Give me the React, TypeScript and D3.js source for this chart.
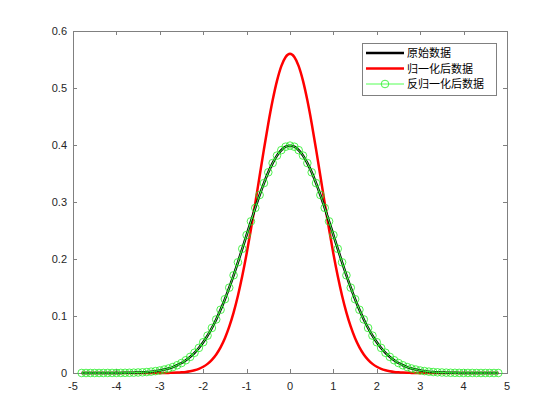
import { useEffect, useRef } from 'react';
import * as d3 from 'd3';

// x positions of the samples (-4.8 ... 4.8, step 0.1)
const xValues = [
  -4.8, -4.7, -4.6, -4.5, -4.4, -4.3, -4.2, -4.1, -4.0, -3.9, -3.8, -3.7, -3.6, -3.5, -3.4, -3.3,
  -3.2, -3.1, -3.0, -2.9, -2.8, -2.7, -2.6, -2.5, -2.4, -2.3, -2.2, -2.1, -2.0, -1.9, -1.8, -1.7,
  -1.6, -1.5, -1.4, -1.3, -1.2, -1.1, -1.0, -0.9, -0.8, -0.7, -0.6, -0.5, -0.4, -0.3, -0.2, -0.1,
  0.0, 0.1, 0.2, 0.3, 0.4, 0.5, 0.6, 0.7, 0.8, 0.9, 1.0, 1.1, 1.2, 1.3, 1.4, 1.5, 1.6, 1.7, 1.8,
  1.9, 2.0, 2.1, 2.2, 2.3, 2.4, 2.5, 2.6, 2.7, 2.8, 2.9, 3.0, 3.1, 3.2, 3.3, 3.4, 3.5, 3.6, 3.7,
  3.8, 3.9, 4.0, 4.1, 4.2, 4.3, 4.4, 4.5, 4.6, 4.7, 4.8,
];

// 原始数据
const originalValues = [
  0.0, 0.0, 0.0, 0.0, 0.0, 0.0, 0.0001, 0.0001, 0.0001, 0.0002, 0.0003, 0.0004, 0.0006, 0.0009,
  0.0012, 0.0017, 0.0024, 0.0033, 0.0044, 0.006, 0.0079, 0.0104, 0.0136, 0.0175, 0.0224, 0.0283,
  0.0355, 0.044, 0.054, 0.0656, 0.079, 0.094, 0.1109, 0.1295, 0.1497, 0.1714, 0.1942, 0.2179,
  0.242, 0.2661, 0.2897, 0.3123, 0.3332, 0.3521, 0.3683, 0.3814, 0.391, 0.397, 0.3989, 0.397,
  0.391, 0.3814, 0.3683, 0.3521, 0.3332, 0.3123, 0.2897, 0.2661, 0.242, 0.2179, 0.1942, 0.1714,
  0.1497, 0.1295, 0.1109, 0.094, 0.079, 0.0656, 0.054, 0.044, 0.0355, 0.0283, 0.0224, 0.0175,
  0.0136, 0.0104, 0.0079, 0.006, 0.0044, 0.0033, 0.0024, 0.0017, 0.0012, 0.0009, 0.0006, 0.0004,
  0.0003, 0.0002, 0.0001, 0.0001, 0.0001, 0.0, 0.0, 0.0, 0.0, 0.0, 0.0,
];

// 归一化后数据
const normalizedValues = [
  0.0, 0.0, 0.0, 0.0, 0.0, 0.0, 0.0, 0.0, 0.0, 0.0, 0.0, 0.0, 0.0, 0.0, 0.0, 0.0, 0.0, 0.0,
  0.0001, 0.0001, 0.0002, 0.0004, 0.0007, 0.0012, 0.0019, 0.0031, 0.0048, 0.0073, 0.0109, 0.016,
  0.023, 0.0325, 0.045, 0.061, 0.0812, 0.1059, 0.1355, 0.17, 0.2091, 0.2521, 0.2981, 0.3456,
  0.3928, 0.4378, 0.4783, 0.5125, 0.5384, 0.5545, 0.56, 0.5545, 0.5384, 0.5125, 0.4783, 0.4378,
  0.3928, 0.3456, 0.2981, 0.2521, 0.2091, 0.17, 0.1355, 0.1059, 0.0812, 0.061, 0.045, 0.0325,
  0.023, 0.016, 0.0109, 0.0073, 0.0048, 0.0031, 0.0019, 0.0012, 0.0007, 0.0004, 0.0002, 0.0001,
  0.0001, 0.0, 0.0, 0.0, 0.0, 0.0, 0.0, 0.0, 0.0, 0.0, 0.0, 0.0, 0.0, 0.0, 0.0, 0.0, 0.0, 0.0,
  0.0,
];

// 反归一化后数据
const restoredValues = [
  0.0, 0.0, 0.0, 0.0, 0.0, 0.0, 0.0001, 0.0001, 0.0001, 0.0002, 0.0003, 0.0004, 0.0006, 0.0009,
  0.0012, 0.0017, 0.0024, 0.0033, 0.0044, 0.006, 0.0079, 0.0104, 0.0136, 0.0175, 0.0224, 0.0283,
  0.0355, 0.044, 0.054, 0.0656, 0.079, 0.094, 0.1109, 0.1295, 0.1497, 0.1714, 0.1942, 0.2179,
  0.242, 0.2661, 0.2897, 0.3123, 0.3332, 0.3521, 0.3683, 0.3814, 0.391, 0.397, 0.3989, 0.397,
  0.391, 0.3814, 0.3683, 0.3521, 0.3332, 0.3123, 0.2897, 0.2661, 0.242, 0.2179, 0.1942, 0.1714,
  0.1497, 0.1295, 0.1109, 0.094, 0.079, 0.0656, 0.054, 0.044, 0.0355, 0.0283, 0.0224, 0.0175,
  0.0136, 0.0104, 0.0079, 0.006, 0.0044, 0.0033, 0.0024, 0.0017, 0.0012, 0.0009, 0.0006, 0.0004,
  0.0003, 0.0002, 0.0001, 0.0001, 0.0001, 0.0, 0.0, 0.0, 0.0, 0.0, 0.0,
];

const xTicks = [-5, -4, -3, -2, -1, 0, 1, 2, 3, 4, 5];
const yTicks = [0, 0.1, 0.2, 0.3, 0.4, 0.5, 0.6];
const legendLabels = ['原始数据', '归一化后数据', '反归一化后数据'];

const width = 560;
const height = 420;
const margin = { top: 31, right: 53, bottom: 47, left: 73 };
const axisColor = '#808080';
const labelFont = '"Liberation Sans", Arial, sans-serif';
const cjkFont = '"Noto Sans CJK SC", "Liberation Sans", sans-serif';

export default function App() {
  const svgRef = useRef<SVGSVGElement>(null);

  useEffect(() => {
    document.body.style.margin = '0';
    const svg = d3.select(svgRef.current!);
    svg.selectAll('*').remove();

    const plotW = width - margin.left - margin.right;
    const plotH = height - margin.top - margin.bottom;

    const x = d3.scaleLinear().domain([-5, 5]).range([margin.left, margin.left + plotW]);
    const y = d3.scaleLinear().domain([0, 0.6]).range([margin.top + plotH, margin.top]);

    svg.append('rect').attr('width', width).attr('height', height).attr('fill', '#fff');

    // box
    svg
      .append('rect')
      .attr('x', margin.left + 0.5)
      .attr('y', margin.top + 0.5)
      .attr('width', plotW)
      .attr('height', plotH)
      .attr('fill', 'none')
      .attr('stroke', axisColor);

    const tickLen = 4;
    const tickG = svg.append('g').attr('stroke', axisColor).attr('shape-rendering', 'crispEdges');
    xTicks.forEach((t) => {
      const px = Math.round(x(t)) + 0.5;
      tickG.append('line').attr('x1', px).attr('x2', px).attr('y1', y(0)).attr('y2', y(0) - tickLen);
      tickG.append('line').attr('x1', px).attr('x2', px).attr('y1', y(0.6)).attr('y2', y(0.6) + tickLen);
    });
    yTicks.forEach((t) => {
      const py = Math.round(y(t)) + 0.5;
      tickG.append('line').attr('x1', x(-5)).attr('x2', x(-5) + tickLen).attr('y1', py).attr('y2', py);
      tickG.append('line').attr('x1', x(5)).attr('x2', x(5) - tickLen).attr('y1', py).attr('y2', py);
    });

    svg
      .append('g')
      .selectAll('text')
      .data(xTicks)
      .enter()
      .append('text')
      .attr('x', (d) => x(d))
      .attr('y', y(0) + 17)
      .attr('text-anchor', 'middle')
      .attr('font-family', labelFont)
      .attr('font-size', 11)
      .attr('fill', '#262626')
      .text((d) => String(d));

    svg
      .append('g')
      .selectAll('text')
      .data(yTicks)
      .enter()
      .append('text')
      .attr('x', x(-5) - 6)
      .attr('y', (d) => y(d) + 4)
      .attr('text-anchor', 'end')
      .attr('font-family', labelFont)
      .attr('font-size', 11)
      .attr('fill', '#262626')
      .text((d) => (d === 0 ? '0' : d.toFixed(1)));

    const line = d3
      .line<number>()
      .x((_, i) => x(xValues[i]))
      .y((d) => y(d))
      .curve(d3.curveMonotoneX);

    svg
      .append('path')
      .datum(normalizedValues)
      .attr('d', line)
      .attr('fill', 'none')
      .attr('stroke', '#ff0000')
      .attr('stroke-width', 2.5);

    svg
      .append('path')
      .datum(originalValues)
      .attr('d', line)
      .attr('fill', 'none')
      .attr('stroke', '#000')
      .attr('stroke-width', 2.5);

    svg
      .append('path')
      .datum(restoredValues)
      .attr('d', line)
      .attr('fill', 'none')
      .attr('stroke', '#55ff55')
      .attr('stroke-width', 1);

    svg
      .append('g')
      .selectAll('circle')
      .data(restoredValues)
      .enter()
      .append('circle')
      .attr('cx', (_, i) => x(xValues[i]))
      .attr('cy', (d) => y(d))
      .attr('r', 3.8)
      .attr('fill', 'none')
      .attr('stroke', '#22ee22')
      .attr('stroke-width', 0.8);

    // legend
    const lg = svg.append('g').attr('transform', 'translate(362,43)');
    lg.append('rect')
      .attr('x', 0.5)
      .attr('y', 0.5)
      .attr('width', 134)
      .attr('height', 52)
      .attr('fill', '#fff')
      .attr('stroke', axisColor);

    const legendColors = ['#000', '#ff0000', '#55ff55'];
    const legendWidths = [2.5, 2.5, 1];
    legendLabels.forEach((label, i) => {
      const ly = 10 + i * 15.5;
      lg.append('line')
        .attr('x1', 4)
        .attr('x2', 42)
        .attr('y1', ly)
        .attr('y2', ly)
        .attr('stroke', legendColors[i])
        .attr('stroke-width', legendWidths[i]);
      if (i === 2) {
        lg.append('circle')
          .attr('cx', 23)
          .attr('cy', ly)
          .attr('r', 3.8)
          .attr('fill', 'none')
          .attr('stroke', '#22ee22')
          .attr('stroke-width', 0.8);
      }
      lg.append('text')
        .attr('x', 45)
        .attr('y', ly + 4)
        .attr('font-family', cjkFont)
        .attr('font-size', 11)
        .attr('fill', '#000')
        .text(label);
    });
  }, []);

  return (
    <div style={{ width, height }}>
      <svg ref={svgRef} width={width} height={height} style={{ display: 'block' }} />
    </div>
  );
}
